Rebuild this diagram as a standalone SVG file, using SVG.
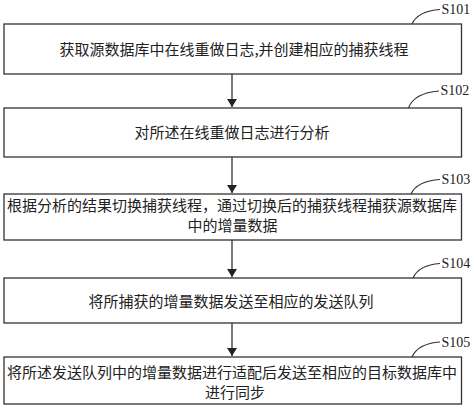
<svg xmlns="http://www.w3.org/2000/svg" width="474" height="409" viewBox="0 0 474 409">
<style>
.box{fill:#fff;stroke:#333;stroke-width:1.3}
.t{font-family:"Noto Sans CJK SC","Noto Sans CJK JP",sans-serif;font-size:15px;fill:#222;text-anchor:middle}
.lbl{font-family:"Liberation Serif",serif;font-size:14px;fill:#222}
.lead{fill:none;stroke:#333;stroke-width:1.2}
.conn{stroke:#333;stroke-width:1.3;fill:none}
</style>
<defs>
<marker id="ah" viewBox="0 0 8 10" refX="8" refY="5" markerWidth="8" markerHeight="10" markerUnits="userSpaceOnUse" orient="auto">
<path d="M0,0 L8,5 L0,10 Z" fill="#222"/>
</marker>
</defs>
<rect width="474" height="409" fill="#fff"/>
<g id="connectors">
<line class="conn" x1="232" y1="74" x2="232" y2="107" marker-end="url(#ah)"/>
<line class="conn" x1="232" y1="157" x2="232" y2="193" marker-end="url(#ah)"/>
<line class="conn" x1="232" y1="240" x2="232" y2="277" marker-end="url(#ah)"/>
<line class="conn" x1="232" y1="323" x2="232" y2="356" marker-end="url(#ah)"/>
</g>
<g id="S101">
<rect class="box" x="4" y="24" width="457.5" height="50"/>
<text class="t" x="234" y="54.5">获取源数据库中在线重做日志,并创建相应的捕获线程</text>
<path class="lead" d="M412,24 Q418,11 440,9.5"/>
<text class="lbl" x="441.5" y="14">S101</text>
</g>
<g id="S102">
<rect class="box" x="4" y="108" width="457.5" height="49"/>
<text class="t" x="232" y="137.5">对所述在线重做日志进行分析</text>
<path class="lead" d="M408.5,108 Q414,93 439,91"/>
<text class="lbl" x="440.5" y="95">S102</text>
</g>
<g id="S103">
<rect class="box" x="4" y="194" width="457.5" height="46"/>
<text class="t" x="232" y="211">根据分析的结果切换捕获线程，通过切换后的捕获线程捕获源数据库</text>
<text class="t" x="232.5" y="231">中的增量数据</text>
<path class="lead" d="M411,194 Q417,181 440,179.5"/>
<text class="lbl" x="441.5" y="184">S103</text>
</g>
<g id="S104">
<rect class="box" x="4" y="278" width="457.5" height="45"/>
<text class="t" x="231" y="307">将所捕获的增量数据发送至相应的发送队列</text>
<path class="lead" d="M413,278 Q419,265 440,263.5"/>
<text class="lbl" x="441.5" y="268">S104</text>
</g>
<g id="S105">
<rect class="box" x="4" y="357" width="457.5" height="47"/>
<text class="t" x="232" y="377.5">将所述发送队列中的增量数据进行适配后发送至相应的目标数据库中</text>
<text class="t" x="235" y="397.5">进行同步</text>
<path class="lead" d="M412,357 Q418,343.5 440,342"/>
<text class="lbl" x="441.5" y="346.5">S105</text>
</g>
</svg>
